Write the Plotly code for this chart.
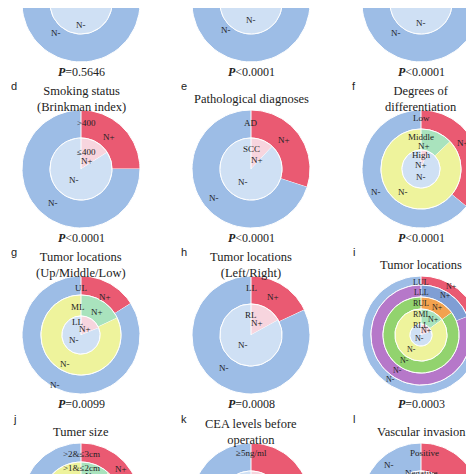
import numpy as np
import plotly.graph_objects as go

# N+ fraction of each ring, outer ring first
frac_a = [0.20, 0.18]
frac_b = [0.20, 0.10]
frac_c = [0.20, 0.10]
frac_d = [0.25, 0.16]
frac_e = [0.30, 0.12]
frac_f = [0.36, 0.13, 0.06]
frac_g = [0.16, 0.18, 0.19]
frac_h = [0.18, 0.17]
frac_i = [0.18, 0.19, 0.15, 0.15, 0.20]
frac_j = [0.40, 0.12, 0.08]
frac_k = [0.50, 0.25]
frac_l = [0.50, 0.35]

titles = ["", "", "", "Smoking status<br>(Brinkman index)", "Pathological diagnoses",
          "Degrees of<br>differentiation", "Tumor locations<br>(Up/Middle/Low)",
          "Tumor locations<br>(Left/Right)", "Tumor locations", "Tumer size",
          "CEA levels before<br>operation", "Vascular invasion"]
letters = ["a", "b", "c", "d", "e", "f", "g", "h", "i", "j", "k", "l"]
p_values = ["=0.5646", "<0.0001", "<0.0001", "<0.0001", "<0.0001", "<0.0001",
            "=0.0099", "=0.0008", "=0.0003", "", "", ""]

OUTER = ("#9dbde6", "#ea5a72")
CORE = ("#cfe0f4", "#f7d5de")
YELLOW = ("#eef39c", "#a9e3bd")
PURPLE = ("#b678c9", "#7f9ed4")
GREEN = ("#92d36e", "#f3a24f")

R2 = ([59, 31, 0], [OUTER, CORE])
R3 = ([59, 40, 19, 0], [OUTER, YELLOW, CORE])
R5 = ([59, 50, 38, 26, 11, 0], [OUTER, PURPLE, GREEN, YELLOW, CORE])

cx = [73, 243, 413]
cy = [-5, 161, 327, 494]

panels = [frac_a, frac_b, frac_c, frac_d, frac_e, frac_f,
          frac_g, frac_h, frac_i, frac_j, frac_k, frac_l]
ring_sets = [R2, R2, R2, R2, R2, R3, R3, R2, R5, R3, R2, R2]

fig = go.Figure()


def sector(x0, y0, r_out, r_in, a0, a1, color):
    t = np.linspace(a0, a1, 60) * 2 * np.pi
    xs = np.concatenate([x0 + r_out * np.sin(t), x0 + r_in * np.sin(t[::-1])])
    ys = np.concatenate([y0 - r_out * np.cos(t), y0 - r_in * np.cos(t[::-1])])
    fig.add_trace(go.Scatter(x=xs, y=ys, fill="toself", fillcolor=color, mode="lines",
                             line=dict(color="white", width=1), hoverinfo="skip",
                             showlegend=False))


for k, fr in enumerate(panels):
    x0, y0 = cx[k % 3], cy[k // 3]
    radii, colors = ring_sets[k]
    for j, f in enumerate(fr):
        sector(x0, y0, radii[j], radii[j + 1], 0, f, colors[j][1])
        sector(x0, y0, radii[j], radii[j + 1], f, 1, colors[j][0])

ann = []
FONT = "Liberation Serif"


def txt(x, y, s, size=9, family=FONT):
    ann.append(dict(x=x, y=y, text=s, showarrow=False, xref="x", yref="y",
                    font=dict(family=family, size=size, color="#222")))


for k in range(12):
    x0, y0 = cx[k % 3], cy[k // 3]
    if k >= 3:
        txt(x0 - 67, y0 - 83, letters[k], size=11, family="Liberation Sans")
    if titles[k]:
        txt(x0, y0 - 70, titles[k], size=12.5)
    if p_values[k]:
        txt(x0, y0 + 69, "<b><i>P</i></b>" + p_values[k], size=12)

# ring labels
labels = [
    (0, 0, 22, "N-"), (0, -25, 30, "N-"),
    (1, 0, 17, "N-"), (1, -25, 27, "N-"),
    (2, 0, 20, "N-"), (2, -25, 30, "N-"),
    (3, 5, -46, ">400"), (3, 28, -32, "N+"), (3, 5, -17, "≤400"), (3, 6, -8, "N+"),
    (3, -7, 11, "N-"), (3, -28, 34, "N-"),
    (4, 0, -46, "AD"), (4, 33, -29, "N+"), (4, 0, -20, "SCC"), (4, 6, -9, "N+"),
    (4, -8, 13, "N-"), (4, -37, 29, "N-"),
    (5, 0, -51, "Low"), (5, 42, -26, "N+"), (5, 0, -32, "Middle"), (5, 3, -23, "N+"),
    (5, 0, -14, "High"), (5, 0, -4, "N+"), (5, 0, 8, "N-"), (5, -18, 23, "N-"),
    (5, -45, 23, "N-"),
    (6, 0, -47, "UL"), (6, 24, -38, "N+"), (6, -3, -28, "ML"), (6, 16, -23, "N+"),
    (6, -4, -13, "LL"), (6, 4, -6, "N+"), (6, -7, 5, "N-"), (6, -16, 29, "N-"),
    (6, -26, 50, "N-"),
    (7, 0, -47, "LL"), (7, 22, -38, "N+"), (7, 0, -20, "RL"), (7, 6, -12, "N+"),
    (7, -8, 10, "N-"), (7, -27, 33, "N-"),
    (8, 0, -53, "LUL"), (8, 30, -49, "N+"), (8, 0, -43, "LLL"), (8, 24, -40, "N+"),
    (8, 0, -32, "RUL"), (8, 16, -28, "N+"), (8, 0, -21, "RML"), (8, 12, -16, "N+"),
    (8, -1, -10, "RLL"), (8, 5, -5, "N+"), (8, -2, 3, "N-"), (8, -10, 14, "N-"),
    (8, -17, 25, "N-"), (8, -24, 35, "N-"), (8, -31, 44, "N-"),
    (9, 0, -48, ">2&≤3cm"), (9, 40, -33, "N+"), (9, 0, -34, ">1&≤2cm"), (9, 10, -26, "N+"),
    (10, 0, -49, "≥5ng/ml"),
    (11, 3, -49, "Positive"), (11, -32, -37, "N-"), (11, 0, -29, "Negative"),
]
for k, dx, dy, s in labels:
    size = 8 if k == 8 else 9
    txt(cx[k % 3] + dx, cy[k // 3] + dy, s, size=size)

fig.update_layout(
    width=474, height=474, margin=dict(l=0, r=0, t=0, b=0),
    plot_bgcolor="white", paper_bgcolor="white", annotations=ann,
    xaxis=dict(range=[0, 474], visible=False, fixedrange=True),
    yaxis=dict(range=[474, 0], visible=False, fixedrange=True),
)
fig.write_html("out.html")
